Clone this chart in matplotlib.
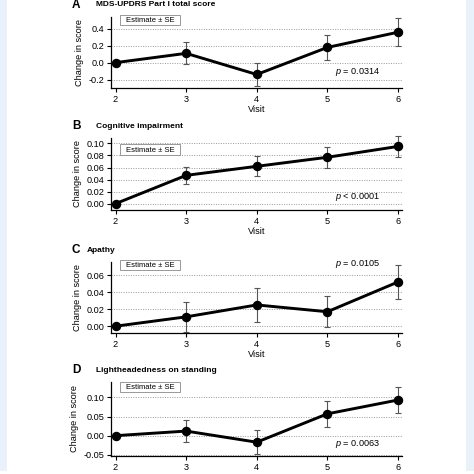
import matplotlib
matplotlib.use("Agg")
import matplotlib.pyplot as plt
from matplotlib.patches import Rectangle

plt.rcParams['font.family'] = ['Liberation Sans', 'DejaVu Sans']
plt.rcParams['mathtext.fontset'] = 'custom'
plt.rcParams['mathtext.it'] = 'Liberation Sans:italic'
plt.rcParams['mathtext.rm'] = 'Liberation Sans'

visits = [2, 3, 4, 5, 6]

# estimates and standard errors
est_a = [0.0, 0.11, -0.14, 0.18, 0.36]
se_a = [0.0, 0.13, 0.14, 0.15, 0.165]
est_b = [0.0, 0.047, 0.062, 0.077, 0.095]
se_b = [0.0, 0.0145, 0.0165, 0.0175, 0.018]
est_c = [0.0, 0.011, 0.025, 0.017, 0.052]
se_c = [0.0, 0.018, 0.0195, 0.0185, 0.0205]
est_d = [0.0, 0.012, -0.017, 0.057, 0.093]
se_d = [0.0, 0.0295, 0.031, 0.0335, 0.035]

letters = ['A', 'B', 'C', 'D']
titles = ['MDS-UPDRS Part I total score', 'Cognitive impairment', 'Apathy',
          'Lightheadedness on standing']
p_labels = ['0.0314', '< 0.0001', '0.0105', '0.0063']
p_signs = ['=', '', '=', '=']
yticks = [[-0.2, 0.0, 0.2, 0.4],
          [0.0, 0.02, 0.04, 0.06, 0.08, 0.10],
          [0.0, 0.02, 0.04, 0.06],
          [-0.05, 0.0, 0.05, 0.10]]
ytick_fmt = ['{:.1f}', '{:.2f}', '{:.2f}', '{:.2f}']
ylims = [(-0.30, 0.54), (-0.0105, 0.109), (-0.008, 0.0755), (-0.053, 0.14)]

estimates = [est_a, est_b, est_c, est_d]
errors = [se_a, se_b, se_c, se_d]

W = H = 474
fig = plt.figure(figsize=(4.74, 4.74), dpi=100)

# light blue side strips of the page
for x0, w in [(0, 7), (466, 8)]:
    fig.patches.append(Rectangle((x0 / W, 3 / H), w / W, 1 - 3 / H, transform=fig.transFigure,
                                 facecolor='#e9f2fb', edgecolor='none', zorder=0))

# axes boxes in pixels: top, bottom
boxes = [(17, 88), (138, 210), (262, 333), (382, 456)]
p_pos = [(0.77, 0.225), (0.77, 0.176), (0.77, 0.97), (0.77, 0.16)]
# "Estimate ± SE" boxes in pixels: top, bottom
legend_box = [(15, 24.5), (144, 155), (260, 269.5), (381.7, 391.7)]
left_px, right_px = 111, 402

for i in range(4):
    top, bot = boxes[i]
    ax = fig.add_axes([left_px / W, 1 - bot / H, (right_px - left_px) / W, (bot - top) / H])
    ax.errorbar(visits, estimates[i], yerr=errors[i], fmt='none', ecolor='#555555',
                elinewidth=0.8, capsize=2.3, capthick=0.8, clip_on=False, zorder=2)
    ax.plot(visits, estimates[i], color='black', lw=2.1, marker='o', markersize=5.8,
            clip_on=False, zorder=3)
    ax.set_xlim(1.936, 6.057)
    ax.set_ylim(*ylims[i])
    ax.set_xticks(visits)
    ax.set_yticks(yticks[i])
    ax.set_yticklabels([ytick_fmt[i].format(v) for v in yticks[i]])
    ax.tick_params(labelsize=6.6, length=3, width=0.8, pad=2, direction='out')
    ax.yaxis.grid(True, linestyle=(0, (1, 1.5)), color='#999999', lw=0.7)
    ax.set_axisbelow(True)
    for s in ['top', 'right']:
        ax.spines[s].set_visible(False)
    for s in ['left', 'bottom']:
        ax.spines[s].set_linewidth(0.9)
    ax.set_ylabel('Change in score', fontsize=6.6, labelpad=3)
    if i < 3:
        ax.set_xlabel('Visit', fontsize=6.6, labelpad=1)

    fig.text(72 / W, 1 - (top - 12) / H, letters[i], fontsize=8.5, fontweight='bold',
             va='center', ha='left')
    fig.text(87 / W if i == 2 else 96 / W, 1 - (top - 12) / H, titles[i], fontsize=6,
             fontweight='bold', va='center', ha='left')

    lt, lb = legend_box[i]
    fig.patches.append(Rectangle((120 / W, 1 - lb / H), 60 / W, (lb - lt) / H,
                                 transform=fig.transFigure, facecolor='white',
                                 edgecolor='#888888', lw=0.6, zorder=5))
    fig.text(150 / W, 1 - (lt + lb) / 2 / H, 'Estimate \u00b1 SE', fontsize=5.5,
             va='center_baseline', ha='center', zorder=6)
    sign = p_signs[i] + ' ' if p_signs[i] else ''
    ax.text(p_pos[i][0], p_pos[i][1], r'$p$ ' + sign + p_labels[i], transform=ax.transAxes,
            fontsize=6.6, va='center', ha='left')

fig.savefig('out.png', dpi=100, facecolor='white')
